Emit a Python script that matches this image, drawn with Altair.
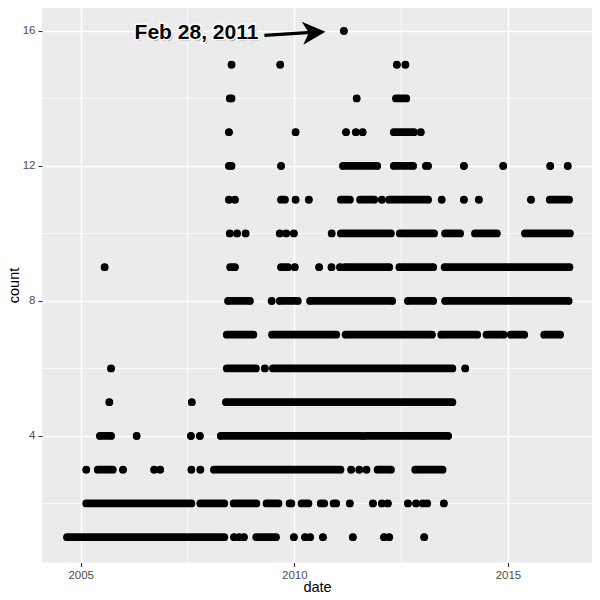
import altair as alt
import pandas as pd

# ---- data: decimal-year dates per count level; tuple = run of consecutive days, number = single day
c01 = [(2004.68, 2008.36), 2008.59, 2008.71, 2008.82, (2009.11, 2009.57), 2009.99, 2010.25, 2010.37,
       2010.67, 2011.37, 2012.10, 2012.22, 2013.04]
c02 = [(2005.13, 2007.59), (2007.80, 2008.36), (2008.58, 2009.11), (2009.35, 2009.63), (2009.89, 2009.93),
       (2010.17, 2010.33), (2010.62, 2010.70), (2010.92, 2010.98), 2011.30, 2011.84, 2012.05, 2012.19,
       2012.66, 2012.85, 2013.01, 2013.11, 2013.50]
c03 = [2005.13, (2005.40, 2005.75), 2005.99, 2006.72, 2006.86, 2007.59, 2007.80, (2008.12, 2011.08),
       2011.33, 2011.52, 2011.69, (2011.95, 2012.26), (2012.83, 2013.47)]
c04 = [(2005.45, 2005.71), 2006.31, 2007.58, 2007.79, (2008.28, 2011.57), (2011.65, 2013.60)]
c05 = [2005.67, 2007.60, (2008.40, 2013.70)]
c06 = [2005.71, (2008.42, 2009.10), 2009.31, (2009.50, 2013.70), 2014.00]
c07 = [(2008.42, 2009.04), (2009.48, 2010.98), (2011.20, 2013.22), (2013.44, 2014.28), (2014.50, 2014.90),
       (2015.07, 2015.38), (2015.85, 2016.22)]
c08 = [(2008.45, 2008.96), 2009.47, (2009.66, 2010.08), (2010.37, 2012.29), (2012.66, 2013.25),
       (2013.53, 2016.42)]
c09 = [2005.56, (2008.50, 2008.61), (2009.69, 2009.85), 2010.01, 2010.58, 2010.87, 2011.07,
       (2011.18, 2012.22), (2012.46, 2013.25), (2013.52, 2016.44)]
c10 = [2008.49, 2008.66, 2008.86, 2009.66, 2009.81, 2009.99, 2010.875, (2011.09, 2012.26),
       (2012.47, 2013.27), (2013.53, 2013.88), (2014.23, 2014.74), (2015.40, 2016.45)]
c11 = [2008.47, 2008.61, (2009.69, 2009.78), 2010.03, 2010.34, (2011.09, 2011.30), (2011.54, 2011.87),
       2012.05, (2012.22, 2013.13), 2013.45, 2013.97, 2014.32, 2015.54, (2015.98, 2016.43)]
c12 = [(2008.47, 2008.53), 2009.69, (2011.14, 2011.94), (2012.33, 2012.78), (2013.08, 2013.13),
       2013.97, 2014.89, 2015.99, 2016.40]
c13 = [2008.47, 2010.03, 2011.21, 2011.44, 2011.60, (2012.33, 2012.80), 2012.96]
c14 = [2008.49, 2008.53, 2011.46, (2012.38, 2012.62)]
c15 = [2008.53, 2009.67, 2012.40, 2012.60]
c16 = [2011.16]

levels = [c01, c02, c03, c04, c05, c06, c07, c08, c09, c10, c11, c12, c13, c14, c15, c16]

x_ticks = [2005, 2010, 2015]
x_minor = [2007.5, 2012.5]
y_ticks = [4, 8, 12, 16]
y_minor = [2, 6, 10, 14]

ann_label = ["Feb 28, 2011"]
ann_text_x = [2007.71]
ann_text_y = [15.93]
arrow_x0, arrow_x1 = [2009.30], [2010.40]
arrow_y0, arrow_y1 = [15.87], [15.955]
head_x, head_y = [2010.46], [15.955]

rows = []
for cnt, items in enumerate(levels, start=1):
    for it in items:
        if isinstance(it, tuple):
            s, e = it
        else:
            s = e = it
        rows.append({"start": s, "end": e, "count": cnt})
df = pd.DataFrame(rows)

FONT = "Liberation Sans"
xscale = alt.Scale(domain=[2004.094, 2016.968], nice=False, zero=False)
yscale = alt.Scale(domain=[0.25, 16.68], nice=False, zero=False)
xaxis = alt.Axis(values=x_ticks, format="d", title="date", grid=True, gridColor="white", gridWidth=1.6,
                 domain=False, tickColor="#333333", tickSize=4, tickWidth=1.1, labelColor="#4D4D4D",
                 labelFontSize=11.5, labelFont=FONT, labelPadding=3, titleFont=FONT, titleFontSize=14.5,
                 titleFontWeight="normal", titleColor="black", titleY=29, titleBaseline="alphabetic")
yaxis = alt.Axis(values=y_ticks, title="count", grid=True, gridColor="white", gridWidth=1.6,
                 domain=False, tickColor="#333333", tickSize=4, tickWidth=1.1, labelColor="#4D4D4D",
                 labelFontSize=11.5, labelFont=FONT, labelPadding=3, titleFont=FONT, titleFontSize=14.5,
                 titleFontWeight="normal", titleColor="black", titleAngle=270, titleX=-28, titleY=277,
                 titleAlign="center", titleBaseline="middle")


def X(f):
    return alt.X(f, type="quantitative", scale=xscale, axis=xaxis)


def Y(f):
    return alt.Y(f, type="quantitative", scale=yscale, axis=yaxis)


minor_x = alt.Chart(pd.DataFrame({"v": x_minor})).mark_rule(color="white", strokeWidth=0.8).encode(x=X("v"))
minor_y = alt.Chart(pd.DataFrame({"v": y_minor})).mark_rule(color="white", strokeWidth=0.8).encode(y=Y("v"))

base = alt.Chart(df)
runs = base.mark_rule(color="black", strokeWidth=7.8, strokeCap="round").encode(
    x=X("start"), x2=alt.X2("end"), y=Y("count"))
pts_s = base.mark_circle(color="black", size=48, opacity=1).encode(x=X("start"), y=Y("count"))
pts_e = base.mark_circle(color="black", size=48, opacity=1).encode(x=X("end"), y=Y("count"))

ann = pd.DataFrame({"x": ann_text_x, "y": ann_text_y, "label": ann_label})
ann_base = alt.Chart(ann)
shadow = ann_base.mark_text(font=FONT, fontWeight="bold", fontSize=21, color="#555555", opacity=0.55,
                            dx=1.5, dy=2).encode(x=X("x"), y=Y("y"), text="label")
halo = ann_base.mark_text(font=FONT, fontWeight="bold", fontSize=21, color="white", stroke="white",
                          strokeWidth=3).encode(x=X("x"), y=Y("y"), text="label")
txt = ann_base.mark_text(font=FONT, fontWeight="bold", fontSize=21, color="black").encode(
    x=X("x"), y=Y("y"), text="label")

arrow_df = pd.DataFrame({"x0": arrow_x0, "x1": arrow_x1, "y0": arrow_y0, "y1": arrow_y1})
shaft = alt.Chart(arrow_df).mark_rule(color="black", strokeWidth=3.3).encode(
    x=X("x0"), x2=alt.X2("x1"), y=Y("y0"), y2=alt.Y2("y1"))
head_df = pd.DataFrame({"x": head_x, "y": head_y})
head = alt.Chart(head_df).mark_point(shape="M 1 0 L -1 -1 L -0.45 0 L -1 1 Z", filled=True, color="black",
                                     opacity=1, size=529, angle=356).encode(x=X("x"), y=Y("y"))

chart = alt.layer(minor_x, minor_y, runs, pts_s, pts_e, shaft, head, shadow, halo, txt).properties(
    width=550, height=554.5,
    background="white",
    autosize=alt.AutoSizeParams(type="none"),
    padding={"left": 34, "top": 0, "right": 0, "bottom": 34},
).configure_view(fill="#EBEBEB", strokeWidth=0)

chart.save("out.html", embed_options={"renderer": "svg", "actions": False})
